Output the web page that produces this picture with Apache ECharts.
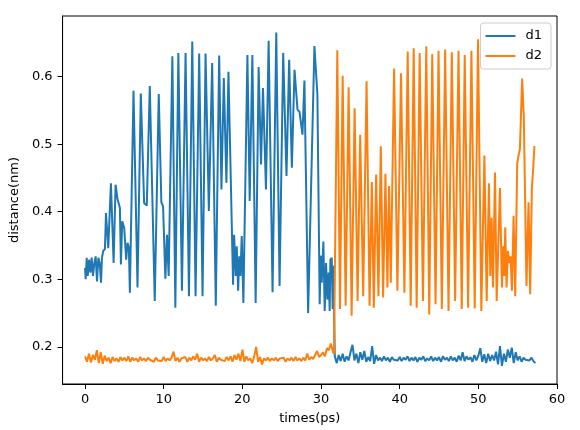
<!DOCTYPE html>
<html>
<head>
<meta charset="utf-8">
<script src="https://cdn.jsdelivr.net/npm/echarts@6/dist/echarts.min.js"></script>
<style>html,body{margin:0;padding:0;background:#fff;}#c{width:580px;height:430px;}</style>
</head>
<body>
<div id="c"></div>
<script>
// d1: large oscillations (time, value)
var d1Times = [0,0.08,0.21,0.34,0.51,0.68,0.84,1.01,1.18,1.35,1.52,1.69,1.86,2.03,2.15,2.32,2.53,2.66,2.95,3.29,3.63,3.88,4.14,4.43,4.56,4.73,4.98,5.23,5.40,5.57,5.70,6.16,6.67,7.09,7.51,7.85,8.23,8.86,9.37,9.70,9.92,10.21,10.42,10.63,11.10,11.48,11.86,12.32,12.78,13.21,13.63,14.05,14.51,14.94,15.32,15.74,16.16,16.62,17.05,17.34,17.64,17.97,18.23,18.82,18.95,19.16,19.29,19.46,19.62,19.75,19.92,20.13,20.64,20.93,21.27,21.69,22.07,22.37,22.62,23.00,23.34,23.84,24.31,24.73,25.19,25.61,25.95,26.29,26.63,27.01,27.26,27.43,27.64,27.89,28.36,29.16,29.54,29.83,29.96,30.09,30.30,30.47,30.64,30.81,30.97,31.10,31.19,31.36,31.48,31.57];
var d1Values = [0.317,0.300,0.332,0.305,0.329,0.310,0.332,0.305,0.324,0.334,0.297,0.332,0.324,0.295,0.332,0.342,0.345,0.398,0.346,0.442,0.324,0.440,0.418,0.406,0.322,0.386,0.376,0.329,0.354,0.347,0.280,0.579,0.288,0.575,0.413,0.409,0.586,0.268,0.574,0.414,0.408,0.301,0.366,0.305,0.630,0.258,0.635,0.283,0.635,0.275,0.652,0.275,0.634,0.275,0.634,0.401,0.620,0.261,0.631,0.433,0.598,0.443,0.607,0.292,0.366,0.305,0.349,0.283,0.334,0.305,0.364,0.265,0.632,0.416,0.632,0.265,0.614,0.470,0.583,0.433,0.653,0.281,0.665,0.290,0.635,0.453,0.625,0.465,0.610,0.551,0.548,0.546,0.514,0.594,0.250,0.645,0.573,0.263,0.335,0.295,0.356,0.253,0.324,0.270,0.310,0.253,0.329,0.332,0.256,0.320];
// d1: small fluctuations after ~31.75 ps, sampled every 0.25 ps
var d1NoiseStart = 31.75, noiseStep = 0.25;
var d1Noise = [0.186,
 0.176,0.188,0.179,0.190,0.178,0.186,0.180,0.192,
 0.203,0.180,0.190,0.176,0.192,0.181,0.194,0.178,
 0.185,0.179,0.201,0.175,0.188,0.180,0.184,0.179,
 0.186,0.180,0.184,0.178,0.185,0.181,0.183,0.180,
 0.185,0.179,0.184,0.181,0.186,0.179,0.184,0.180,
 0.185,0.178,0.184,0.181,0.186,0.179,0.183,0.180,
 0.186,0.179,0.184,0.180,0.185,0.178,0.186,0.181,
 0.184,0.179,0.186,0.180,0.184,0.178,0.187,0.180,
 0.192,0.179,0.186,0.181,0.185,0.178,0.188,0.180,
 0.187,0.198,0.178,0.189,0.176,0.190,0.179,0.188,
 0.180,0.193,0.174,0.201,0.172,0.190,0.178,0.196,
 0.184,0.199,0.176,0.192,0.180,0.186,0.178,0.184,
 0.181,0.183,0.180,0.184,0.179,0.176];
// d2: small fluctuations from 0 ps, sampled every 0.25 ps
var d2NoiseStart = 0;
var d2Noise = [
 0.186,0.178,0.190,0.177,0.188,0.181,0.195,0.176,
 0.192,0.175,0.187,0.179,0.184,0.176,0.185,0.179,
 0.183,0.178,0.185,0.180,0.184,0.179,0.186,0.178,
 0.184,0.180,0.183,0.178,0.185,0.180,0.183,0.179,
 0.184,0.181,0.183,0.178,0.184,0.180,0.182,0.179,
 0.185,0.179,0.183,0.180,0.184,0.193,0.179,0.184,
 0.178,0.183,0.181,0.185,0.178,0.184,0.180,0.186,
 0.181,0.190,0.178,0.184,0.180,0.183,0.179,0.185,
 0.180,0.183,0.188,0.178,0.184,0.181,0.183,0.179,
 0.185,0.180,0.186,0.178,0.188,0.181,0.190,0.179,
 0.196,0.178,0.186,0.180,0.183,0.176,0.186,0.200,
 0.178,0.185,0.174,0.183,0.180,0.184,0.179,0.183,
 0.180,0.184,0.179,0.183,0.181,0.184,0.178,0.183,
 0.180,0.184,0.179,0.185,0.180,0.183,0.179,0.184,
 0.180,0.190,0.181,0.185,0.182,0.184,0.194,0.185,
 0.188,0.192,0.186,0.198,0.195,0.205,0.193];
// d2: large oscillations (time, value)
var d2Times = [31.65,32.07,32.41,32.75,33.13,33.51,33.89,34.27,34.65,34.98,35.36,35.79,36.17,36.46,36.71,37.01,37.30,37.60,37.89,38.19,38.44,38.65,38.87,39.29,39.71,40.17,40.60,41.02,41.40,41.78,42.16,42.54,42.96,43.38,43.76,44.14,44.56,44.94,45.36,45.78,46.21,46.63,47.05,47.48,47.89,48.27,48.70,49.12,49.54,49.96,50.38,50.77,51.06,51.35,51.52,51.69,51.86,52.12,52.33,52.75,53.00,53.17,53.30,53.42,53.59,53.76,53.93,54.10,54.27,54.48,54.69,54.94,55.11,55.28,55.57,55.78,56.12,56.38,56.59,56.80,56.96,57.13];
var d2Values = [0.190,0.639,0.256,0.601,0.261,0.584,0.246,0.553,0.268,0.514,0.275,0.593,0.261,0.444,0.258,0.455,0.275,0.497,0.273,0.456,0.288,0.438,0.295,0.612,0.283,0.605,0.280,0.637,0.261,0.642,0.258,0.635,0.268,0.645,0.248,0.633,0.263,0.638,0.256,0.640,0.253,0.636,0.268,0.638,0.256,0.632,0.258,0.638,0.257,0.655,0.253,0.483,0.268,0.442,0.305,0.391,0.288,0.458,0.268,0.435,0.288,0.349,0.305,0.377,0.288,0.342,0.324,0.334,0.283,0.394,0.275,0.471,0.483,0.492,0.597,0.541,0.290,0.414,0.278,0.433,0.462,0.497];

var xTicks = [0,10,20,30,40,50,60];
var yTicks = [0.2,0.3,0.4,0.5,0.6];

function pairs(ts, vs){ var o=[]; for(var i=0;i<ts.length;i++) o.push([ts[i], vs[i]]); return o; }
function noisePairs(start, step, vs){ var o=[]; for(var i=0;i<vs.length;i++) o.push([+(start+i*step).toFixed(3), vs[i]]); return o; }

var d1Data = pairs(d1Times, d1Values).concat(noisePairs(d1NoiseStart, noiseStep, d1Noise));
var d2Data = noisePairs(d2NoiseStart, noiseStep, d2Noise).concat(pairs(d2Times, d2Values));

var font = 'DejaVu Sans';
var chart = echarts.init(document.getElementById('c'), null, {renderer:'canvas'});
chart.setOption({
  animation: false,
  backgroundColor: '#fff',
  textStyle: {fontFamily: font},
  grid: {left: 61, right: 23, top: 16, bottom: 45, show: true, borderColor: '#000', borderWidth: 1, backgroundColor: 'transparent'},
  xAxis: {
    type: 'value', min: -2.857, max: 60,
    name: 'times(ps)', nameLocation: 'middle', nameGap: 28,
    nameTextStyle: {color: '#000', fontSize: 13, fontFamily: font},
    axisLine: {show: true, onZero: false, lineStyle: {color: '#000', width: 1}},
    axisTick: {show: true, length: 5, lineStyle: {color: '#000'}, customValues: xTicks},
    axisLabel: {color: '#000', fontSize: 13, fontFamily: font, margin: 9, customValues: xTicks},
    splitLine: {show: false}
  },
  yAxis: {
    type: 'value', min: 0.1451, max: 0.6896,
    name: 'distance(nm)', nameLocation: 'middle', nameGap: 38, nameRotate: 90,
    nameTextStyle: {color: '#000', fontSize: 13, fontFamily: font},
    axisLine: {show: true, onZero: false, lineStyle: {color: '#000', width: 1}},
    axisTick: {show: true, length: 5, lineStyle: {color: '#000'}, customValues: yTicks},
    axisLabel: {color: '#000', fontSize: 13, fontFamily: font, margin: 10, customValues: yTicks,
      formatter: function(v){ return v.toFixed(1); }},
    splitLine: {show: false}
  },
  legend: {
    orient: 'vertical', right: 29, top: 23,
    data: ['d1','d2'],
    icon: 'rect', itemWidth: 30, itemHeight: 2, itemGap: 4,
    padding: [5, 9, 5, 5],
    borderColor: '#ccc', borderWidth: 1, borderRadius: 3,
    backgroundColor: 'rgba(255,255,255,0.8)',
    textStyle: {color: '#000', fontSize: 13, fontFamily: font, lineHeight: 16, padding: [0,0,0,5]}
  },
  series: [
    {name: 'd1', type: 'line', data: d1Data, showSymbol: false, symbol: 'none', color: '#1f77b4',
     lineStyle: {width: 2, color: '#1f77b4'}, z: 2},
    {name: 'd2', type: 'line', data: d2Data, showSymbol: false, symbol: 'none', color: '#ff7f0e',
     lineStyle: {width: 2, color: '#ff7f0e'}, z: 3}
  ]
});
</script>
</body>
</html>
